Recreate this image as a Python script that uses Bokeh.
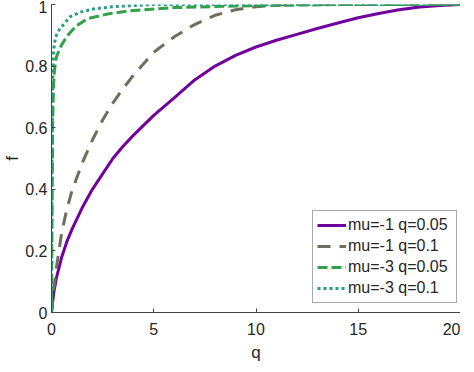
from bokeh.plotting import figure
from bokeh.models import Range1d, Legend, LegendItem, FixedTicker
from bokeh.embed import file_html
from bokeh.resources import INLINE

# mu=-1 q=0.05
q_a = [0, 0.1, 0.25, 0.5, 0.75, 1, 1.5, 2, 2.5, 3, 3.5, 4, 5, 6, 7, 8, 9, 10, 11, 12, 13, 14, 15, 16, 17, 18, 19, 20]
f_a = [0, 0.06, 0.115, 0.18, 0.23, 0.27, 0.34, 0.40, 0.45, 0.50, 0.54, 0.575, 0.64, 0.697, 0.755, 0.80, 0.835, 0.862, 0.884, 0.903, 0.922, 0.94, 0.957, 0.971, 0.983, 0.992, 0.997, 1.0]
# mu=-1 q=0.1
q_b = [0, 0.1, 0.25, 0.5, 0.75, 1, 1.5, 2, 2.5, 3, 3.5, 4, 5, 6, 7, 8, 9, 10, 11, 12, 20]
f_b = [0, 0.07, 0.15, 0.26, 0.335, 0.395, 0.485, 0.56, 0.625, 0.68, 0.727, 0.77, 0.845, 0.895, 0.935, 0.965, 0.983, 0.993, 0.998, 1.0, 1.0]
# mu=-3 q=0.05
q_c = [0, 0.03, 0.06, 0.1, 0.15, 0.24, 0.5, 0.8, 1.2, 1.8, 2.8, 3.9, 6, 9, 14, 20]
f_c = [0, 0.35, 0.62, 0.74, 0.79, 0.83, 0.87, 0.90, 0.93, 0.955, 0.97, 0.98, 0.99, 0.995, 1.0, 1.0]
# mu=-3 q=0.1
q_d = [0, 0.02, 0.05, 0.1, 0.2, 0.4, 0.9, 1.4, 2, 3, 5, 20]
f_d = [0, 0.45, 0.72, 0.85, 0.895, 0.92, 0.96, 0.975, 0.985, 0.993, 1.0, 1.0]

labels = ["mu=-1 q=0.05", "mu=-1 q=0.1", "mu=-3 q=0.05", "mu=-3 q=0.1"]
x_ticks = [0, 5, 10, 15, 20]
y_ticks = [0, 0.2, 0.4, 0.6, 0.8, 1]
y_tick_labels = ["0", "0.2", "0.4", "0.6", "0.8", "1"]

FONT = "Liberation Sans"

p = figure(width=460, height=364, x_range=Range1d(0, 20), y_range=Range1d(0, 1),
           output_backend="svg", toolbar_location=None,
           min_border_left=0, min_border_right=0, min_border_top=4, min_border_bottom=0)
p.outline_line_color = None
p.xgrid.visible = False
p.ygrid.visible = False
p.background_fill_color = "white"
p.border_fill_color = "white"

for ax in (p.xaxis[0], p.yaxis[0]):
    ax.axis_line_color = "#444444"
    ax.major_tick_line_color = "#444444"
    ax.major_tick_in = 4
    ax.major_tick_out = 0
    ax.minor_tick_line_color = None
    ax.major_label_text_font = FONT
    ax.major_label_text_font_size = "16px"
    ax.major_label_text_color = "#262626"
    ax.axis_label_text_font = FONT
    ax.axis_label_text_font_size = "17px"
    ax.axis_label_text_font_style = "normal"
    ax.axis_label_text_color = "#262626"

p.xaxis.ticker = FixedTicker(ticks=x_ticks)
p.yaxis.ticker = FixedTicker(ticks=y_ticks)
p.yaxis.major_label_overrides = {t: l for t, l in zip(y_ticks, y_tick_labels)}
p.xaxis.axis_label = "q"
p.yaxis.axis_label = "f"
p.xaxis.major_label_standoff = 10
p.yaxis.major_label_standoff = 4
p.xaxis.axis_label_standoff = 5
p.yaxis.axis_label_standoff = 0

r_a = p.line(q_a, f_a, line_color="#72009c", line_width=3)
r_b = p.line(q_b, f_b, line_color="#6e6e5e", line_width=3, line_dash="13 9")
r_c = p.line(q_c, f_c, line_color="#35a04a", line_width=3, line_dash="10 4")
r_d = p.line(q_d, f_d, line_color="#2a9e7c", line_width=3, line_dash="3 3")

legend = Legend(items=[LegendItem(label=l, renderers=[r]) for l, r in zip(labels, [r_a, r_b, r_c, r_d])],
                location=(261, 9))
legend.label_text_font = FONT
legend.label_text_font_size = "16px"
legend.label_text_color = "#262626"
legend.label_width = 104
legend.glyph_width = 29
legend.glyph_height = 20
legend.label_height = 20
legend.label_standoff = 2
legend.spacing = 1
legend.padding = 4
legend.margin = 0
legend.border_line_color = "#555555"
legend.border_line_width = 1
legend.background_fill_alpha = 1
p.add_layout(legend)

open("out.html", "w").write(file_html(p, INLINE))
